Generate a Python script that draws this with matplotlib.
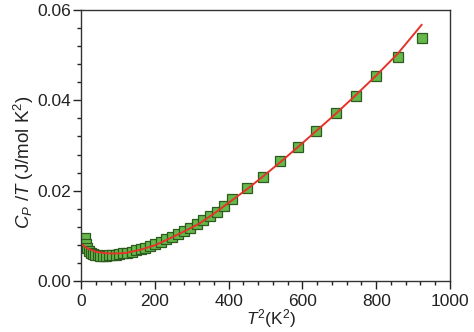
import matplotlib
matplotlib.use("Agg")
import matplotlib.pyplot as plt
import matplotlib.ticker as ticker

plt.rcParams['font.family'] = ['Liberation Sans', 'DejaVu Sans']
plt.rcParams['mathtext.fontset'] = 'custom'
plt.rcParams['mathtext.rm'] = 'Liberation Sans'
plt.rcParams['mathtext.it'] = 'Liberation Sans:italic'

TICKSIZE = 12.5
LABELSIZE = 13.5

# measured C_P/T against T^2
t2_data = [10.2, 13.7, 17.6, 22.1, 27.0, 32.5, 38.4, 44.9, 51.8, 59.3,
           67.2, 75.7, 84.6, 94.1, 104.0, 114.5, 125.4, 136.9, 148.8, 161.3,
           174.2, 187.7, 201.6, 216.1, 231.0, 246.5, 262.4, 278.9, 295.8, 313.3,
           331.2, 349.7, 368.6, 388.1, 408.0, 451.0, 494.0, 540.0, 587.0, 636.0,
           690.0, 744.0, 800.0, 858.0, 923.0]
cp_data = [0.0095, 0.0082, 0.0073, 0.0067, 0.0063, 0.0060, 0.0058, 0.0057, 0.0056, 0.0056,
           0.0056, 0.0057, 0.0057, 0.0058, 0.0060, 0.0061, 0.0063, 0.0065, 0.0068, 0.0071,
           0.0074, 0.0078, 0.0082, 0.0087, 0.0092, 0.0098, 0.0104, 0.0111, 0.0118, 0.0126,
           0.0134, 0.0143, 0.0153, 0.0166, 0.0181, 0.0206, 0.0231, 0.0265, 0.0297, 0.0333,
           0.0371, 0.0410, 0.0453, 0.0497, 0.0537]

# fitted curve
t2_fit = [0, 20, 40, 60, 80, 100, 120, 160, 200, 240, 280, 320, 360, 408,
          451, 494, 540, 587, 636, 690, 744, 800, 858, 923]
cp_fit = [0.0082, 0.0071, 0.0065, 0.0062, 0.0061, 0.0061, 0.0062, 0.0069, 0.0079,
          0.0094, 0.0110, 0.0127, 0.0149, 0.0178, 0.0204, 0.0232, 0.0263, 0.0296,
          0.0331, 0.0370, 0.0411, 0.0455, 0.0503, 0.0567]

fig = plt.figure(figsize=(4.74, 3.32), dpi=100)
ax = fig.add_axes([81 / 474, 1 - 281 / 332, 369 / 474, 271 / 332])

ax.plot(t2_data, cp_data, linestyle='none', marker='s', markersize=7.8,
        markerfacecolor='#66b84a', markeredgecolor='#2d5a1e', markeredgewidth=0.9)
ax.plot(t2_fit, cp_fit, color='#e5332a', linewidth=1.4)

ax.set_xlim(0, 1000)
ax.set_ylim(0, 0.06)
ax.xaxis.set_major_locator(ticker.MultipleLocator(200))
ax.xaxis.set_minor_locator(ticker.MultipleLocator(40))
ax.yaxis.set_major_locator(ticker.MultipleLocator(0.02))
ax.yaxis.set_minor_locator(ticker.MultipleLocator(0.004))
ax.yaxis.set_major_formatter(ticker.FormatStrFormatter('%.2f'))

ax.tick_params(which='both', direction='out', top=False, right=False,
               width=1, color='#222222', labelsize=TICKSIZE, labelcolor='#222222')
ax.tick_params(which='major', length=5.5)
ax.tick_params(axis='y', which='major', pad=1.5)
ax.tick_params(axis='x', which='major', pad=3.5)
ax.tick_params(which='minor', length=3)
for s in ax.spines.values():
    s.set_linewidth(1)
    s.set_color('#333333')

ax.set_xlabel(r'$T^2$(K$^2$)', fontsize=LABELSIZE - 1, color='#222222')
ax.set_ylabel(r'$C_P\ /T$ (J/mol K$^2$)', fontsize=LABELSIZE, color='#222222')
ax.xaxis.set_label_coords(0.515, -0.097)
ax.yaxis.set_label_coords(-0.122, 0.44)

plt.savefig('out.png', dpi=100)
plt.close()
